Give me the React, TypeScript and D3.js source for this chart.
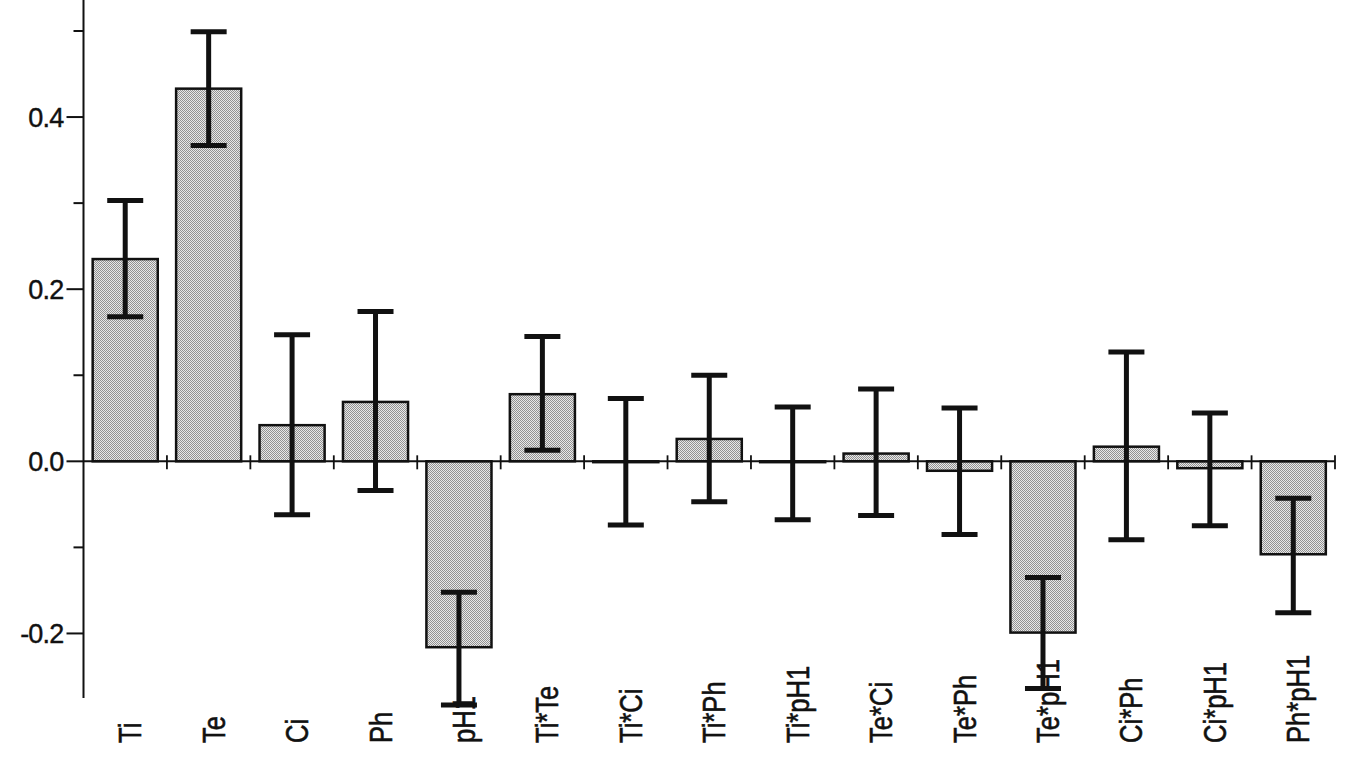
import { useEffect, useRef } from "react";
import * as d3 from "d3";

// effect estimates
const categories = [
  "Ti", "Te", "Ci", "Ph", "pH1",
  "Ti*Te", "Ti*Ci", "Ti*Ph", "Ti*pH1", "Te*Ci",
  "Te*Ph", "Te*pH1", "Ci*Ph", "Ci*pH1", "Ph*pH1",
];
const effects = [
  0.235, 0.433, 0.042, 0.069, -0.216,
  0.078, -0.001, 0.026, -0.001, 0.009,
  -0.011, -0.199, 0.017, -0.008, -0.108,
];
const upper = [
  0.303, 0.499, 0.147, 0.174, -0.152,
  0.145, 0.073, 0.100, 0.063, 0.084,
  0.062, -0.135, 0.127, 0.056, -0.043,
];
const lower = [
  0.168, 0.367, -0.062, -0.034, -0.283,
  0.013, -0.074, -0.047, -0.068, -0.063,
  -0.085, -0.264, -0.091, -0.075, -0.176,
];
const majorTicks = [-0.2, 0.0, 0.2, 0.4];
const minorTicks = [-0.1, 0.1, 0.3, 0.5];

export default function App() {
  const svgRef = useRef<SVGSVGElement>(null);

  useEffect(() => {
    if (!svgRef.current) return;
    const svg = d3.select(svgRef.current);
    svg.selectAll("*").remove();

    const width = 1350;
    const height = 771;
    const left = 83.5;
    const right = 1335;
    const font = "'Liberation Sans', Arial, sans-serif";

    const x = d3
      .scaleBand<string>()
      .domain(categories)
      .range([left, right])
      .paddingInner(0.22)
      .paddingOuter(0.11);

    const y = d3.scaleLinear().domain([-0.275, 0.536]).range([698, 0]);

    // stipple pattern
    const defs = svg.append("defs");
    const pat = defs
      .append("pattern")
      .attr("id", "stipple")
      .attr("width", 2)
      .attr("height", 2)
      .attr("patternUnits", "userSpaceOnUse");
    pat.append("rect").attr("width", 2).attr("height", 2).attr("fill", "#e8e8e8");
    pat.append("rect").attr("x", 0).attr("y", 0).attr("width", 1).attr("height", 1).attr("fill", "#929292");
    pat.append("rect").attr("x", 1).attr("y", 1).attr("width", 1).attr("height", 1).attr("fill", "#929292");

    svg.append("rect").attr("width", width).attr("height", height).attr("fill", "#fff");

    const rows = categories.map((c, i) => ({
      c,
      v: effects[i],
      hi: upper[i],
      lo: lower[i],
    }));

    // bars
    svg
      .selectAll(".bar")
      .data(rows)
      .enter()
      .append("rect")
      .attr("class", "bar")
      .attr("x", d => x(d.c) as number)
      .attr("width", x.bandwidth())
      .attr("y", d => y(Math.max(0, d.v)))
      .attr("height", d => Math.abs(y(d.v) - y(0)))
      .attr("fill", "url(#stipple)")
      .attr("stroke", "#111")
      .attr("stroke-width", 2.5);

    // y axis
    const yAxis = svg.append("g").attr("stroke", "#111");
    yAxis
      .append("line")
      .attr("x1", left)
      .attr("x2", left)
      .attr("y1", y.range()[1])
      .attr("y2", y.range()[0])
      .attr("stroke-width", 2);
    yAxis
      .selectAll(".maj")
      .data(majorTicks)
      .enter()
      .append("line")
      .attr("x1", left - 17)
      .attr("x2", left)
      .attr("y1", d => y(d))
      .attr("y2", d => y(d))
      .attr("stroke-width", 2);
    yAxis
      .selectAll(".min")
      .data(minorTicks)
      .enter()
      .append("line")
      .attr("x1", left - 10)
      .attr("x2", left)
      .attr("y1", d => y(d))
      .attr("y2", d => y(d))
      .attr("stroke-width", 2);

    svg
      .selectAll(".ylab")
      .data(majorTicks)
      .enter()
      .append("text")
      .attr("x", left - 20)
      .attr("y", d => y(d) + 10)
      .attr("text-anchor", "end")
      .attr("font-family", font)
      .attr("font-size", 27)
      .attr("letter-spacing", -0.8)
      .attr("fill", "#111")
      .attr("stroke", "#111")
      .attr("stroke-width", 0.4)
      .text(d => d.toFixed(1));

    // zero line with category separators
    svg
      .append("line")
      .attr("x1", left)
      .attr("x2", right)
      .attr("y1", y(0))
      .attr("y2", y(0))
      .attr("stroke", "#111")
      .attr("stroke-width", 2);
    const step = x.step();
    svg
      .selectAll(".xtick")
      .data(d3.range(1, categories.length + 1))
      .enter()
      .append("line")
      .attr("x1", i => left + i * step)
      .attr("x2", i => left + i * step)
      .attr("y1", y(0) - 6)
      .attr("y2", y(0) + 8)
      .attr("stroke", "#111")
      .attr("stroke-width", 1.8);

    // error bars
    const cx = (d: { c: string }) => (x(d.c) as number) + x.bandwidth() / 2;
    const capW = 18;
    const eb = svg.append("g").attr("stroke", "#111").attr("stroke-width", 5);
    eb.selectAll(".stem")
      .data(rows)
      .enter()
      .append("line")
      .attr("x1", cx)
      .attr("x2", cx)
      .attr("y1", d => y(d.hi))
      .attr("y2", d => y(d.lo));
    eb.selectAll(".capHi")
      .data(rows)
      .enter()
      .append("line")
      .attr("x1", d => cx(d) - capW)
      .attr("x2", d => cx(d) + capW)
      .attr("y1", d => y(d.hi))
      .attr("y2", d => y(d.hi));
    eb.selectAll(".capLo")
      .data(rows)
      .enter()
      .append("line")
      .attr("x1", d => cx(d) - capW)
      .attr("x2", d => cx(d) + capW)
      .attr("y1", d => y(d.lo))
      .attr("y2", d => y(d.lo));

    // rotated category labels (tall, narrow lettering as in the original)
    svg
      .selectAll(".xlab")
      .data(categories)
      .enter()
      .append("text")
      .attr(
        "transform",
        c => `translate(${(x(c) as number) + x.bandwidth() / 2 + 16},743) rotate(-90) scale(0.8,1)`
      )
      .attr("text-anchor", "start")
      .attr("font-family", font)
      .attr("font-size", 32)
      .attr("fill", "#111")
      .attr("stroke", "#111")
      .attr("stroke-width", 0.6)
      .text(c => c);
  }, []);

  return (
    <svg
      ref={svgRef}
      width={1350}
      height={771}
      viewBox="0 0 1350 771"
      style={{ position: "absolute", left: 0, top: 0, display: "block" }}
    />
  );
}
